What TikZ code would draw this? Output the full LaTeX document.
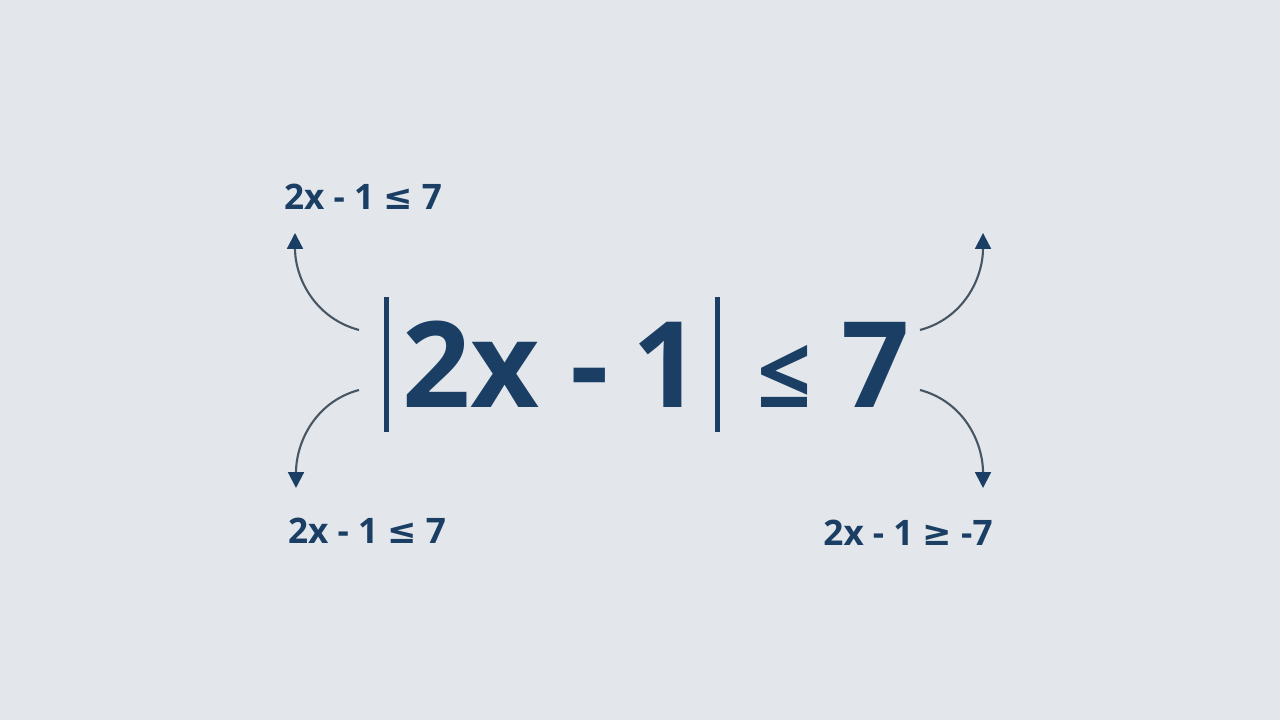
\documentclass[tikz,border=0pt]{standalone}
\usepackage{fontspec}
\setmainfont{Open Sans}
\newfontfamily\symfont{DejaVu Sans}
\usetikzlibrary{arrows.meta}

\definecolor{bgcol}{RGB}{227,231,235}
\definecolor{inkblue}{RGB}{26,62,100}
\definecolor{arrowgray}{RGB}{72,86,100}

\tikzset{
    eqlabel/.style={text=inkblue, font=\bfseries\fontsize{10}{12}\selectfont, inner sep=0pt},
    bigeq/.style={text=inkblue, font=\bfseries\fontsize{34}{40}\selectfont, inner sep=0pt},
    branch/.style={draw=arrowgray, line width=0.6pt,
        -{Triangle[color=inkblue, length=4.5pt, width=4.5pt]}}
}

\newcommand{\absbar}{\rule[-0.24cm]{0.05cm}{1.35cm}}

\begin{document}
\begin{tikzpicture}
    \fill[bgcol] (0, 0) rectangle (12.8, 7.2);

    \node[bigeq, anchor=base west] (main) at (3.83, 3.12)
        {\absbar\hspace{0.14cm}2x\hspace{0.3cm}-\hspace{0.24cm}1\hspace{0.14cm}\absbar\hspace{0.38cm}{\fontsize{27}{30}\selectfont ≤}\hspace{0.3cm}7};

    \node[eqlabel] (tl) at (3.63, 5.23) {2x - 1 {\symfont ≤} 7};
    \node[eqlabel] (bl) at (3.67, 1.89) {2x - 1 {\symfont ≤} 7};
    \node[eqlabel] (br) at (9.08, 1.87) {2x - 1 {\symfont ≥} -7};

    \coordinate (tlfrom) at (3.59, 3.90);
    \coordinate (blfrom) at (3.59, 3.30);
    \coordinate (trfrom) at (9.20, 3.90);
    \coordinate (brfrom) at (9.20, 3.30);
    \coordinate (tlto) at (2.95, 4.87);
    \coordinate (blto) at (2.96, 2.32);
    \coordinate (trto) at (9.83, 4.87);
    \coordinate (brto) at (9.83, 2.32);

    \draw[branch] (tlfrom) to[out=165, in=-90] (tlto);
    \draw[branch] (trfrom) to[out=15, in=-90] (trto);
    \draw[branch] (blfrom) to[out=195, in=90] (blto);
    \draw[branch] (brfrom) to[out=-15, in=90] (brto);
\end{tikzpicture}
\end{document}
